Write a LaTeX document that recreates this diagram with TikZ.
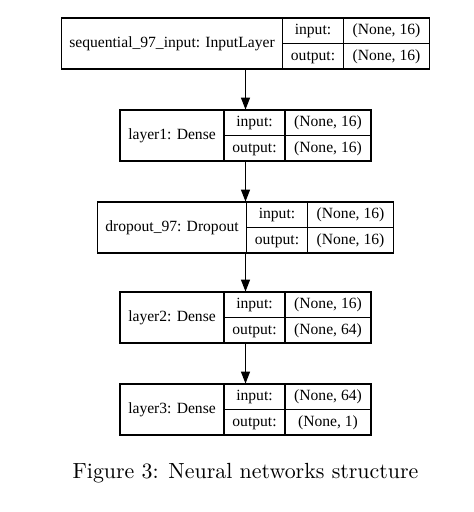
\documentclass[tikz,border=0pt]{standalone}
\usepackage{fontspec}
\newfontfamily\dotfont{Liberation Serif}
\usetikzlibrary{arrows.meta,positioning,fit}

\begin{document}
\begin{tikzpicture}[x=0.5pt,y=-0.5pt,>={Triangle[length=6pt,width=4.5pt]},
    cell/.style={draw, line width=0.6pt, inner sep=0pt, outer sep=0pt, minimum height=12.75pt,
        text height=5.6pt, text depth=1.7pt, font=\dotfont\fontsize{7.8}{9}\selectfont},
    namecell/.style={cell, minimum height=25.5pt}]
    \useasboundingbox (0,0) rectangle (474,512);

    % Layers
    \foreach \i/\lx/\ty/\wn/\name/\vin/\vout in {
        1/61.5/18/221/{sequential\_97\_input: InputLayer}/{(None, 16)}/{(None, 16)},
        2/120/110/104/{layer1: Dense}/{(None, 16)}/{(None, 16)},
        3/97.5/202/149/{dropout\_97: Dropout}/{(None, 16)}/{(None, 16)},
        4/120/292/104/{layer2: Dense}/{(None, 16)}/{(None, 64)},
        5/120/384/104/{layer3: Dense}/{(None, 64)}/{(None, 1)}}
    {
        \node[namecell, anchor=north west, minimum width=\wn*0.5pt] (n\i) at (\lx,\ty) {\name};
        \node[cell, anchor=north west, minimum width=30.5pt] (ki\i) at (n\i.north east) {input:};
        \node[cell, anchor=north west, minimum width=43pt] (vi\i) at (ki\i.north east) {\vin};
        \node[cell, anchor=north west, minimum width=30.5pt] (ko\i) at (ki\i.south west) {output:};
        \node[cell, anchor=north west, minimum width=43pt] (vo\i) at (vi\i.south west) {\vout};
        \node[fit=(n\i)(vo\i), inner sep=0pt] (L\i) {};
    }

    % Arrows
    \foreach \a/\b in {1/2, 2/3, 3/4, 4/5}
        \draw[->, line width=0.6pt] (L\a.south) -- (L\b.north);

    % Caption
    \node[anchor=base, font=\fontsize{10.95}{13}\selectfont] (cap) at (245.5,478)
        {Figure 3: Neural networks structure};
\end{tikzpicture}
\end{document}
